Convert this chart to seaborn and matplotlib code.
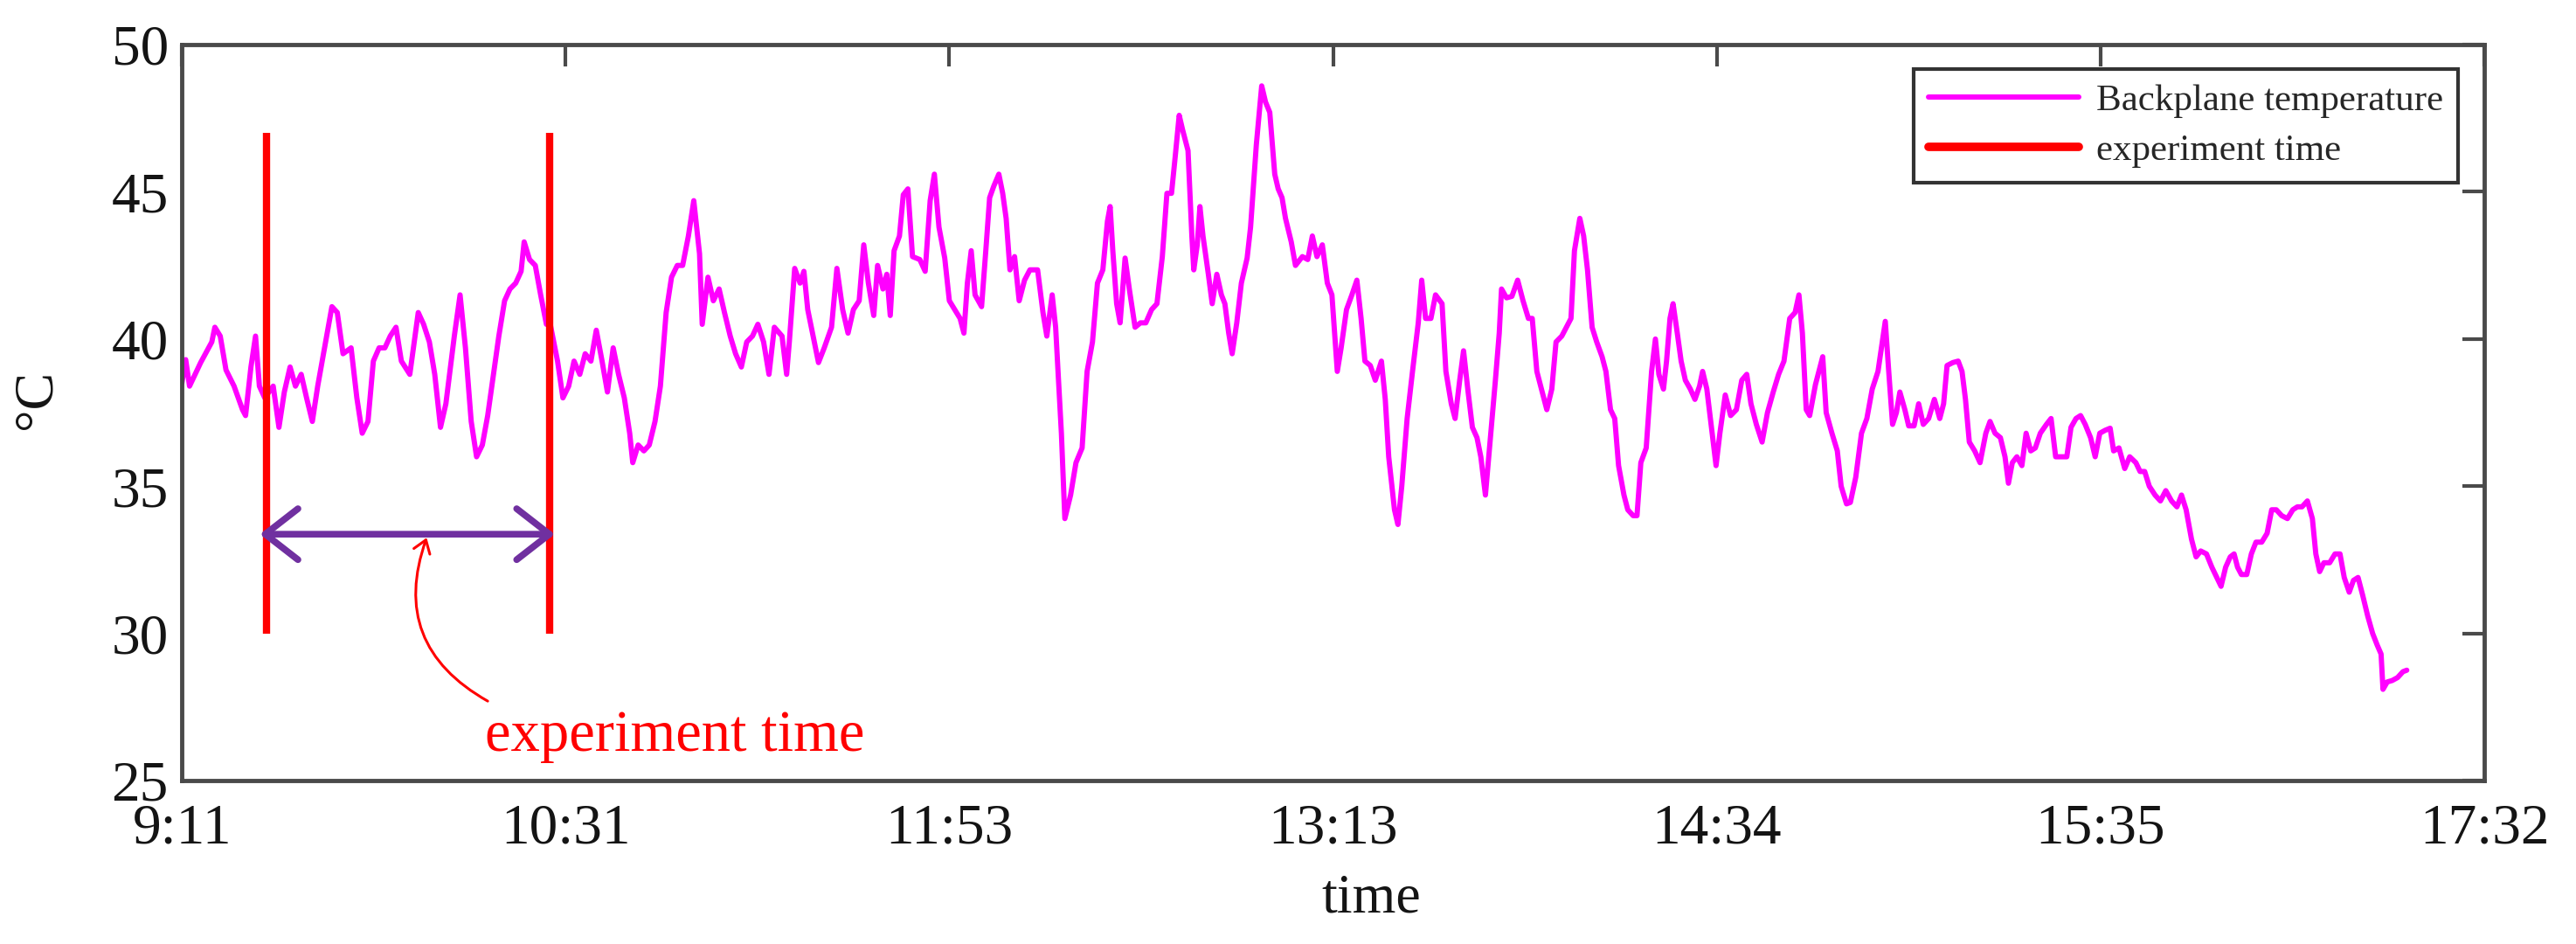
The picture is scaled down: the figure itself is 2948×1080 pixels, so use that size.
import matplotlib
matplotlib.use("Agg")
import matplotlib.pyplot as plt
from matplotlib.lines import Line2D
import seaborn as sns
import pandas as pd

# ---------------- data (x = position along the time axis, 0..600; y = temperature in degC)
seg_a = [(0.0,38.5),(1.0,39.3),(2.0,38.4),(4.9,39.2),(7.8,39.9),(8.6,40.4),(10.0,40.1),(11.5,38.95),(13.6,38.4),(15.8,37.6),(16.6,37.4),(18.0,39.05),(19.2,40.1),(20.2,38.4),(21.6,38.0),(23.8,38.4),(25.3,37.0),(26.7,38.2),(28.2,39.05),(29.6,38.4),(31.1,38.8),(32.5,38.0),(34.0,37.2),(35.4,38.4),(36.9,39.5),(39.1,41.1),(40.5,40.9),(42.0,39.5),(44.1,39.7),(45.6,38.0),(47.0,36.8),(48.5,37.2),(49.9,39.25),(51.4,39.7),(52.9,39.7),(54.3,40.1),(55.8,40.4),(57.2,39.25),(59.4,38.8),(61.6,40.9),(63.0,40.5),(64.5,39.9),(65.9,38.8),(67.4,37.0),(68.8,37.8),(71.0,40.1),(72.5,41.5),(73.9,39.7),(75.4,37.2),(76.8,36.0),(78.3,36.4),(79.7,37.4),(81.2,38.8),(82.6,40.1),(84.1,41.3),(85.5,41.7),(87.0,41.9),(88.4,42.3),(89.2,43.3),(90.6,42.7),(92.1,42.5),(93.5,41.5),(95.0,40.5),(96.0,40.5),(97.9,39.25),(99.3,38.0),(100.8,38.4),(102.2,39.25),(103.7,38.8),(105.1,39.5),(106.6,39.25),(108.0,40.3),(109.5,39.25),(110.9,38.2),(112.4,39.7),(113.8,38.8),(115.3,38.0),(116.7,36.8),(117.5,35.8),(118.9,36.4),(120.4,36.2),(121.8,36.4),(123.3,37.2),(124.7,38.4),(126.2,40.9),(127.6,42.1),(129.1,42.5),(130.5,42.5),(132.0,43.5),(133.4,44.7),(134.9,42.9),(135.6,40.5),(137.1,42.1),(138.5,41.3),(140.0,41.7),(141.4,40.9),(142.9,40.1),(144.3,39.5),(145.8,39.05),(147.2,39.9),(148.7,40.1),(150.1,40.5),(151.6,39.9),(153.0,38.8)]

seg_b = [(154.4,40.4),(156.4,40.1),(157.6,38.8),(158.3,39.9),(159.7,42.4),(161.1,41.9),(162.1,42.3),(163.1,41.0),(164.5,40.1),(165.9,39.2),(167.4,39.7),(169.3,40.4),(170.7,42.4),(172.2,41.0),(173.6,40.2),(175.0,41.0),(176.5,41.3),(177.7,43.2),(178.9,41.9),(180.3,40.8),(181.3,42.5),(182.7,41.7),(183.7,42.2),(184.6,40.8),(185.6,43.0),(187.0,43.5),(188.0,44.9),(189.2,45.1),(190.4,42.8),(192.3,42.7),(193.7,42.3),(195.0,44.7),(196.1,45.6),(197.3,43.8),(198.8,42.75),(200.0,41.3),(201.4,41.0),(202.8,40.7),(203.8,40.2),(204.7,41.9),(205.7,43.0),(206.7,41.5),(208.4,41.1),(209.5,43.0),(210.5,44.8),(211.6,45.2),(212.9,45.6),(213.9,44.95),(214.8,44.1),(215.8,42.35),(217.0,42.8),(218.2,41.3),(219.6,42.0),(221.0,42.35),(223.0,42.35),(224.4,40.9),(225.4,40.1),(226.8,41.5),(227.7,40.4),(229.2,36.8),(230.1,33.9),(231.6,34.7),(233.0,35.8),(234.6,36.3),(235.9,38.9),(237.3,39.9),(238.6,41.9),(240.0,42.35),(241.2,44.0),(241.9,44.5),(242.6,43.0),(243.6,41.2),(244.5,40.55),(245.8,42.75),(246.9,41.7),(248.4,40.4),(249.8,40.55),(251.2,40.55),(252.7,41.0),(254.1,41.2),(255.5,42.8),(256.7,44.95),(257.9,44.95),(258.9,46.25),(259.9,47.6),(260.8,47.1),(262.2,46.4),(263.2,43.5),(263.7,42.35),(264.6,43.2),(265.3,44.5),(266.1,43.5),(267.5,42.2),(268.5,41.2),(269.7,42.2),(270.9,41.5),(271.8,41.2),(272.8,40.2),(273.7,39.5),(274.9,40.55),(276.1,41.9),(277.6,42.75),(278.5,43.8),(280.0,46.6),(281.4,48.6),(282.4,48.05),(283.5,47.7),(284.8,45.6),(285.7,45.1),(286.7,44.8),(287.6,44.1),(289.1,43.3),(290.2,42.5),(292.0,42.8),(293.4,42.7),(294.6,43.5),(295.8,42.8),(297.2,43.2),(298.5,41.9)]

seg_c = [(299.7,41.5),(301.1,38.9),(302.1,39.7),(303.5,41.0),(304.9,41.5),(306.2,42.0),(307.3,40.7),(308.3,39.25),(309.7,39.1),(311.0,38.6),(312.6,39.25),(313.6,37.95),(314.5,36.0),(316.0,34.2),(316.9,33.7),(317.9,35.0),(319.3,37.3),(320.7,38.9),(322.2,40.55),(323.1,42.0),(324.1,40.7),(325.5,40.7),(326.7,41.5),(328.4,41.2),(329.4,38.9),(330.8,37.8),(331.8,37.3),(333.0,38.6),(334.0,39.6),(335.1,38.3),(336.3,37.0),(337.5,36.65),(338.5,36.0),(339.7,34.7),(340.9,36.5),(342.3,38.6),(343.3,40.2),(343.9,41.7),(345.2,41.4),(346.6,41.45),(348.1,42.0),(349.5,41.3),(350.9,40.7),(351.9,40.7),(353.1,38.9),(354.3,38.3),(355.7,37.6),(357.0,38.3),(358.1,39.9),(359.6,40.1),(360.8,40.4),(362.0,40.7),(362.9,43.0),(364.3,44.1),(365.3,43.5),(366.3,42.35),(367.5,40.4),(368.7,39.9),(370.1,39.4),(371.1,38.9),(372.3,37.6),(373.4,37.3),(374.4,35.7),(375.8,34.7),(376.8,34.2),(378.2,34.0),(379.2,34.0),(380.2,35.8),(381.6,36.3),(383.0,38.9),(384.0,40.0),(384.9,38.8),(386.1,38.3),(386.9,39.25),(387.8,40.7),(388.6,41.2),(389.7,40.2),(390.7,39.25),(391.8,38.6),(393.1,38.3),(394.3,37.95),(395.5,38.4),(396.3,38.9),(397.4,38.3),(398.6,37.0),(399.8,35.7),(400.8,36.8),(402.2,38.1),(403.6,37.4),(405.1,37.6),(406.5,38.6),(407.8,38.8),(408.9,37.8),(410.3,37.1),(411.8,36.5),(413.2,37.5),(414.7,38.2),(416.1,38.8),(417.5,39.25),(419.0,40.7),(420.4,40.9),(421.4,41.5),(422.3,40.2),(423.3,37.6),(424.2,37.4),(425.7,38.45),(426.6,38.9),(427.6,39.4),(428.5,37.5),(430.0,36.8),(431.4,36.2),(432.4,35.0),(433.8,34.4),(434.8,34.45),(436.2,35.3),(437.7,36.8),(439.1,37.3),(440.5,38.3),(442.0,38.9),(442.9,39.7),(443.9,40.6),(444.8,38.9),(445.8,37.1),(446.8,37.5),(447.7,38.2),(449.0,37.6)]

seg_d = [(450.0,37.05),(451.4,37.05),(452.6,37.8),(453.8,37.1),(455.2,37.3),(456.7,37.95),(458.1,37.3),(459.1,37.8),(460.0,39.1),(461.5,39.2),(462.9,39.25),(463.9,38.9),(464.8,37.95),(465.8,36.5),(467.2,36.2),(468.6,35.8),(470.1,36.8),(471.2,37.2),(472.5,36.8),(473.9,36.65),(475.1,36.0),(476.0,35.1),(477.0,35.8),(478.2,36.0),(479.5,35.7),(480.6,36.8),(481.8,36.2),(483.0,36.3),(484.3,36.8),(485.9,37.1),(487.1,37.3),(488.3,36.0),(489.7,36.0),(491.2,36.0),(492.3,37.0),(493.6,37.3),(494.8,37.4),(496.0,37.1),(497.4,36.65),(498.6,36.0),(499.8,36.8),(501.2,36.9),(502.5,36.97),(503.4,36.2),(504.8,36.3),(506.3,35.6),(507.6,36.0),(509.2,35.8),(510.3,35.5),(511.5,35.5),(512.7,35.0),(514.2,34.7),(515.6,34.5),(517.0,34.85),(518.5,34.5),(519.9,34.3),(521.1,34.7),(522.3,34.2),(523.7,33.2),(524.9,32.6),(526.1,32.8),(527.6,32.7),(529.0,32.25),(530.3,31.9),(531.4,31.6),(532.6,32.25),(533.8,32.6),(534.8,32.7),(535.7,32.25),(536.7,32.0),(538.1,32.0),(539.3,32.7),(540.5,33.1),(542.0,33.1),(543.4,33.4),(544.6,34.2),(545.8,34.2),(547.2,34.0),(548.7,33.9),(550.1,34.2),(551.3,34.3),(552.5,34.3),(553.9,34.5),(555.2,33.9),(556.1,32.7),(557.1,32.1),(558.2,32.4),(559.7,32.4),(561.1,32.7),(562.4,32.7),(563.5,31.9),(564.8,31.4),(565.9,31.8),(567.1,31.9),(568.3,31.3),(569.6,30.6),(570.9,30.0),(572.1,29.6),(573.1,29.3),(573.6,28.1),(574.7,28.35),(576.0,28.4),(577.4,28.5),(578.8,28.7),(579.8,28.75)]

tick_positions = [0, 100, 200, 300, 400, 500, 600]
tick_labels = ["9:11", "10:31", "11:53", "13:13", "14:34", "15:35", "17:32"]
y_ticks = [25, 30, 35, 40, 45, 50]

experiment_x = [22.1, 95.9]          # start / end of experiment
experiment_y = [30, 47]              # vertical extent of the marker lines
arrow_y = 33.37                      # double arrow level
arrow_x = [20.3, 97.2]
pointer_from = (79.7, 27.7)
pointer_to = (63.8, 33.25)
label_pos = (79.0, 26.5)

# ---------------- build table
rows = seg_a + seg_b + seg_c + seg_d
df = pd.DataFrame(rows, columns=["pos", "temp"])

sns.set_theme(style="white")
plt.rcParams["font.family"] = ["Liberation Serif", "DejaVu Serif"]

fig = plt.figure(figsize=(29.48, 10.8), dpi=100)
ax = fig.add_axes([0.0706, 0.1731, 0.8938, 0.7796])

MAGENTA = "#FF00FF"
RED = "#FF0000"
PURPLE = "#7030A0"
AXC = "#4a4a4a"

sns.lineplot(data=df, x="pos", y="temp", ax=ax, color=MAGENTA, lw=4.3,
             estimator=None, sort=False, legend=False, zorder=2)

for xv in experiment_x:
    ax.plot([xv, xv], experiment_y, color=RED, lw=6, solid_capstyle="butt", zorder=3)

ax.annotate("", xy=(arrow_x[1], arrow_y), xytext=(arrow_x[0], arrow_y),
            arrowprops=dict(arrowstyle="<->,head_length=0.45,head_width=0.35",
                            lw=5.5, color=PURPLE, mutation_scale=60,
                            shrinkA=0, shrinkB=0), zorder=4)

ax.annotate("", xy=pointer_to, xytext=pointer_from,
            arrowprops=dict(arrowstyle="->,head_length=0.5,head_width=0.35",
                            connectionstyle="arc3,rad=-0.42",
                            lw=2.2, color=RED, mutation_scale=20,
                            shrinkA=0, shrinkB=0), zorder=4)

ax.text(label_pos[0], label_pos[1], "experiment time", color=RED,
        fontsize=48, ha="left", va="center", zorder=5)

ax.set_xlim(0, 600)
ax.set_ylim(25, 50)
ax.set_xticks(tick_positions)
ax.set_xticklabels(tick_labels)
ax.set_yticks(y_ticks)

for sp in ax.spines.values():
    sp.set_visible(True)
    sp.set_color(AXC)
    sp.set_linewidth(3.5)

ax.tick_params(axis="both", direction="in", length=18, width=3, color=AXC,
               top=True, right=True, labelsize=47, labelcolor="#141414")
ax.tick_params(axis="x", pad=19)
ax.tick_params(axis="y", pad=11)

ax.set_xlabel("time", fontsize=46, color="#141414")
ax.xaxis.set_label_coords(0.5165, -0.127)
ax.set_ylabel("°C", fontsize=46, color="#141414")
ax.yaxis.set_label_coords(-0.052, 0.518)

handles = [Line2D([], [], color=MAGENTA, lw=4.3),
           Line2D([], [], color=RED, lw=7)]
leg = ax.legend(handles, ["Backplane temperature", "experiment time"],
                loc="upper right", bbox_to_anchor=(0.9886, 0.9667),
                borderaxespad=0, fontsize=31, frameon=True, fancybox=False,
                framealpha=1, edgecolor="#333333", borderpad=0.4,
                labelspacing=0.4, handlelength=4.0, handletextpad=0.45)
leg.get_frame().set_linewidth(3)

fig.savefig("out.png", dpi=100, facecolor="white")
